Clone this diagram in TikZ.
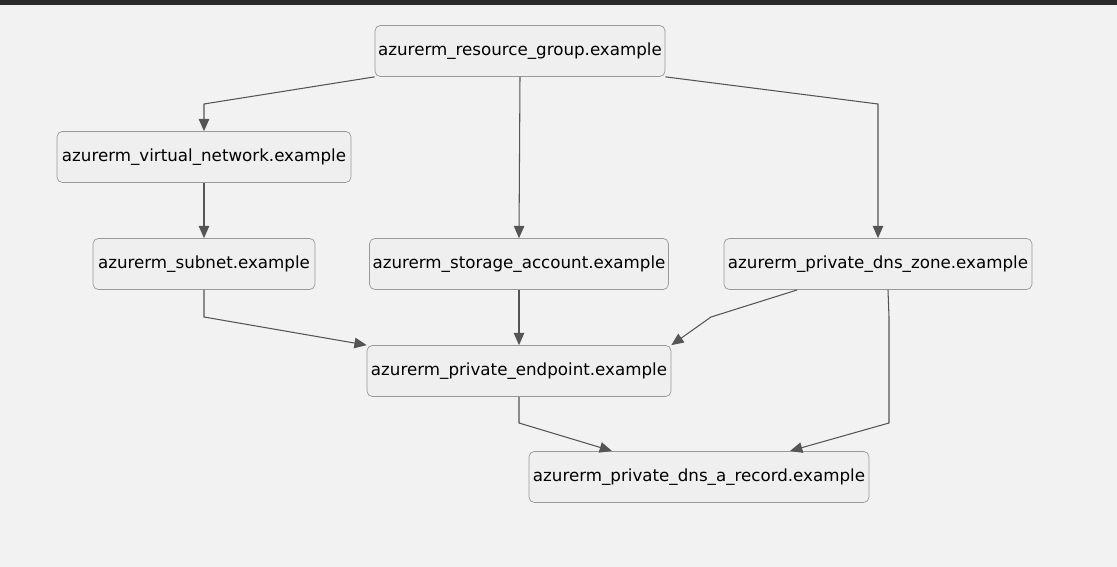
\documentclass[tikz,border=0pt]{standalone}
\usepackage{fontspec}
\setmainfont{DejaVu Sans}
\usetikzlibrary{arrows.meta}
\definecolor{bgcol}{HTML}{F2F2F2}
\definecolor{boxfill}{HTML}{EFEFEF}
\definecolor{boxline}{HTML}{999999}
\definecolor{edgecol}{HTML}{555555}
\definecolor{barcol}{HTML}{2B2B2B}
\tikzset{>={Triangle[length=7pt,width=6pt]}}
\tikzset{res/.style={draw=boxline,fill=boxfill,rounded corners=3pt,
    minimum height=1.02cm,inner sep=0pt,font=\fontsize{9.5}{11}\selectfont},
  dep/.style={->,edgecol,line width=0.6pt}}
\begin{document}
\begin{tikzpicture}[x=0.02cm,y=-0.02cm]
    \fill[bgcol] (0,0) rectangle (1117,567);
    \fill[barcol] (0,0) rectangle (1117,5);
    \node[res,minimum width=5.8cm] (rg) at (520,51) {azurerm\_resource\_group.example};
    \node[res,minimum width=5.88cm] (vnet) at (204,157) {azurerm\_virtual\_network.example};
    \node[res,minimum width=4.44cm] (subnet) at (204,264) {azurerm\_subnet.example};
    \node[res,minimum width=5.98cm] (storage) at (519,264) {azurerm\_storage\_account.example};
    \node[res,minimum width=6.16cm] (zone) at (878,264) {azurerm\_private\_dns\_zone.example};
    \node[res,minimum width=6.08cm] (endpoint) at (519,371) {azurerm\_private\_endpoint.example};
    \node[res,minimum width=6.8cm] (record) at (699,477) {azurerm\_private\_dns\_a\_record.example};
    % dependency edges
    \draw[dep] (rg.south west) -- (204,104) -- (vnet.north);
    \draw[dep] (rg.south) -- (storage.north);
    \draw[dep] (rg.south east) -- (878,104) -- (zone.north);
    \draw[dep] (vnet) -- (subnet);
    \draw[dep] (subnet.south) -- (204,317) -- (endpoint.north west);
    \draw[dep] (storage) -- (endpoint);
    \draw[dep] (797,290) -- (711,317) -- (endpoint.north east);
    \draw[dep] (endpoint.south) -- (519,423) -- (612,451);
    \draw[dep] (888,290) -- (889,317) -- (889,423) -- (790,451);
\end{tikzpicture}
\end{document}
